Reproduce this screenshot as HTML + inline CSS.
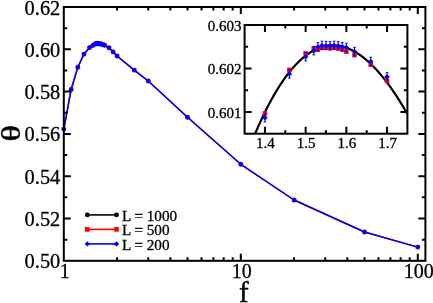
<!DOCTYPE html>
<html><head><meta charset="utf-8"><style>html,body{margin:0;padding:0;background:#fff;overflow:hidden}svg{display:block}</style></head>
<body>
<svg width="433" height="303" viewBox="0 0 433 303">
<rect width="433" height="303" fill="#fff"/>
<polyline points="63.80,129.10 71.13,89.50 77.82,67.20 83.97,54.10 89.66,47.40 92.89,45.40 94.97,44.10 95.99,43.70 96.49,43.60 96.99,43.50 97.49,43.50 97.98,43.50 98.47,43.50 98.96,43.60 99.45,43.70 99.93,43.80 100.88,44.00 102.76,44.50 104.59,45.20 108.98,47.80 113.14,51.90 117.08,56.00 134.24,70.10 148.25,81.00 187.52,117.30 240.80,164.30 294.08,200.00 364.52,232.00 417.80,247.10" fill="none" stroke="#ff0000" stroke-width="1.5" stroke-linejoin="round"/>
<rect x="61.70" y="127.00" width="4.2" height="4.2" fill="#ff0000"/>
<rect x="69.03" y="87.40" width="4.2" height="4.2" fill="#ff0000"/>
<rect x="75.72" y="65.10" width="4.2" height="4.2" fill="#ff0000"/>
<rect x="81.87" y="52.00" width="4.2" height="4.2" fill="#ff0000"/>
<rect x="87.56" y="45.30" width="4.2" height="4.2" fill="#ff0000"/>
<rect x="90.79" y="43.30" width="4.2" height="4.2" fill="#ff0000"/>
<rect x="92.87" y="42.00" width="4.2" height="4.2" fill="#ff0000"/>
<rect x="93.89" y="41.60" width="4.2" height="4.2" fill="#ff0000"/>
<rect x="94.39" y="41.50" width="4.2" height="4.2" fill="#ff0000"/>
<rect x="94.89" y="41.40" width="4.2" height="4.2" fill="#ff0000"/>
<rect x="95.39" y="41.40" width="4.2" height="4.2" fill="#ff0000"/>
<rect x="95.88" y="41.40" width="4.2" height="4.2" fill="#ff0000"/>
<rect x="96.37" y="41.40" width="4.2" height="4.2" fill="#ff0000"/>
<rect x="96.86" y="41.50" width="4.2" height="4.2" fill="#ff0000"/>
<rect x="97.35" y="41.60" width="4.2" height="4.2" fill="#ff0000"/>
<rect x="97.83" y="41.70" width="4.2" height="4.2" fill="#ff0000"/>
<rect x="98.78" y="41.90" width="4.2" height="4.2" fill="#ff0000"/>
<rect x="100.66" y="42.40" width="4.2" height="4.2" fill="#ff0000"/>
<rect x="102.49" y="43.10" width="4.2" height="4.2" fill="#ff0000"/>
<rect x="106.88" y="45.70" width="4.2" height="4.2" fill="#ff0000"/>
<rect x="111.04" y="49.80" width="4.2" height="4.2" fill="#ff0000"/>
<rect x="114.98" y="53.90" width="4.2" height="4.2" fill="#ff0000"/>
<rect x="132.14" y="68.00" width="4.2" height="4.2" fill="#ff0000"/>
<rect x="146.15" y="78.90" width="4.2" height="4.2" fill="#ff0000"/>
<rect x="185.42" y="115.20" width="4.2" height="4.2" fill="#ff0000"/>
<rect x="238.70" y="162.20" width="4.2" height="4.2" fill="#ff0000"/>
<rect x="291.98" y="197.90" width="4.2" height="4.2" fill="#ff0000"/>
<rect x="362.42" y="229.90" width="4.2" height="4.2" fill="#ff0000"/>
<rect x="415.70" y="245.00" width="4.2" height="4.2" fill="#ff0000"/>
<polyline points="63.80,129.10 71.13,89.50 77.82,67.20 83.97,54.10 89.66,47.40 92.89,45.40 94.97,44.10 95.99,43.70 96.49,43.60 96.99,43.50 97.49,43.50 97.98,43.50 98.47,43.50 98.96,43.60 99.45,43.70 99.93,43.80 100.88,44.00 102.76,44.50 104.59,45.20 108.98,47.80 113.14,51.90 117.08,56.00 134.24,70.10 148.25,81.00 187.52,117.30 240.80,164.30 294.08,200.00 364.52,232.00 417.80,247.10" fill="none" stroke="#0000ff" stroke-width="1.5" stroke-linejoin="round"/>
<path d="M61.10,129.10L63.80,126.40L66.50,129.10L63.80,131.80Z" fill="#0000ff"/>
<path d="M68.43,89.50L71.13,86.80L73.83,89.50L71.13,92.20Z" fill="#0000ff"/>
<path d="M75.12,67.20L77.82,64.50L80.52,67.20L77.82,69.90Z" fill="#0000ff"/>
<path d="M81.27,54.10L83.97,51.40L86.67,54.10L83.97,56.80Z" fill="#0000ff"/>
<path d="M86.96,47.40L89.66,44.70L92.36,47.40L89.66,50.10Z" fill="#0000ff"/>
<path d="M90.19,45.40L92.89,42.70L95.59,45.40L92.89,48.10Z" fill="#0000ff"/>
<path d="M92.27,44.10L94.97,41.40L97.67,44.10L94.97,46.80Z" fill="#0000ff"/>
<path d="M93.29,43.70L95.99,41.00L98.69,43.70L95.99,46.40Z" fill="#0000ff"/>
<path d="M93.79,43.60L96.49,40.90L99.19,43.60L96.49,46.30Z" fill="#0000ff"/>
<path d="M94.29,43.50L96.99,40.80L99.69,43.50L96.99,46.20Z" fill="#0000ff"/>
<path d="M94.79,43.50L97.49,40.80L100.19,43.50L97.49,46.20Z" fill="#0000ff"/>
<path d="M95.28,43.50L97.98,40.80L100.68,43.50L97.98,46.20Z" fill="#0000ff"/>
<path d="M95.77,43.50L98.47,40.80L101.17,43.50L98.47,46.20Z" fill="#0000ff"/>
<path d="M96.26,43.60L98.96,40.90L101.66,43.60L98.96,46.30Z" fill="#0000ff"/>
<path d="M96.75,43.70L99.45,41.00L102.15,43.70L99.45,46.40Z" fill="#0000ff"/>
<path d="M97.23,43.80L99.93,41.10L102.63,43.80L99.93,46.50Z" fill="#0000ff"/>
<path d="M98.18,44.00L100.88,41.30L103.58,44.00L100.88,46.70Z" fill="#0000ff"/>
<path d="M100.06,44.50L102.76,41.80L105.46,44.50L102.76,47.20Z" fill="#0000ff"/>
<path d="M101.89,45.20L104.59,42.50L107.29,45.20L104.59,47.90Z" fill="#0000ff"/>
<path d="M106.28,47.80L108.98,45.10L111.68,47.80L108.98,50.50Z" fill="#0000ff"/>
<path d="M110.44,51.90L113.14,49.20L115.84,51.90L113.14,54.60Z" fill="#0000ff"/>
<path d="M114.38,56.00L117.08,53.30L119.78,56.00L117.08,58.70Z" fill="#0000ff"/>
<path d="M131.54,70.10L134.24,67.40L136.94,70.10L134.24,72.80Z" fill="#0000ff"/>
<path d="M145.55,81.00L148.25,78.30L150.95,81.00L148.25,83.70Z" fill="#0000ff"/>
<path d="M184.82,117.30L187.52,114.60L190.22,117.30L187.52,120.00Z" fill="#0000ff"/>
<path d="M238.10,164.30L240.80,161.60L243.50,164.30L240.80,167.00Z" fill="#0000ff"/>
<path d="M291.38,200.00L294.08,197.30L296.78,200.00L294.08,202.70Z" fill="#0000ff"/>
<path d="M361.82,232.00L364.52,229.30L367.22,232.00L364.52,234.70Z" fill="#0000ff"/>
<path d="M415.10,247.10L417.80,244.40L420.50,247.10L417.80,249.80Z" fill="#0000ff"/>
<path d="M63.80,239.65L67.30,239.65 M425.40,239.65L421.90,239.65 M63.80,218.50L70.80,218.50 M425.40,218.50L418.40,218.50 M63.80,197.35L67.30,197.35 M425.40,197.35L421.90,197.35 M63.80,176.20L70.80,176.20 M425.40,176.20L418.40,176.20 M63.80,155.05L67.30,155.05 M425.40,155.05L421.90,155.05 M63.80,133.90L70.80,133.90 M425.40,133.90L418.40,133.90 M63.80,112.75L67.30,112.75 M425.40,112.75L421.90,112.75 M63.80,91.60L70.80,91.60 M425.40,91.60L418.40,91.60 M63.80,70.45L67.30,70.45 M425.40,70.45L421.90,70.45 M63.80,49.30L70.80,49.30 M425.40,49.30L418.40,49.30 M63.80,28.15L67.30,28.15 M425.40,28.15L421.90,28.15 M117.08,260.80L117.08,257.30 M117.08,7.00L117.08,10.50 M148.25,260.80L148.25,257.30 M148.25,7.00L148.25,10.50 M170.36,260.80L170.36,257.30 M170.36,7.00L170.36,10.50 M187.52,260.80L187.52,257.30 M187.52,7.00L187.52,10.50 M201.53,260.80L201.53,257.30 M201.53,7.00L201.53,10.50 M213.38,260.80L213.38,257.30 M213.38,7.00L213.38,10.50 M223.65,260.80L223.65,257.30 M223.65,7.00L223.65,10.50 M232.70,260.80L232.70,257.30 M232.70,7.00L232.70,10.50 M240.80,260.80L240.80,253.80 M240.80,7.00L240.80,14.00 M294.08,260.80L294.08,257.30 M294.08,7.00L294.08,10.50 M325.25,260.80L325.25,257.30 M325.25,7.00L325.25,10.50 M347.36,260.80L347.36,257.30 M347.36,7.00L347.36,10.50 M364.52,260.80L364.52,257.30 M364.52,7.00L364.52,10.50 M378.53,260.80L378.53,257.30 M378.53,7.00L378.53,10.50 M390.38,260.80L390.38,257.30 M390.38,7.00L390.38,10.50 M400.65,260.80L400.65,257.30 M400.65,7.00L400.65,10.50 M409.70,260.80L409.70,257.30 M409.70,7.00L409.70,10.50 M417.80,260.80L417.80,253.80 M417.80,7.00L417.80,14.00" stroke="#000" stroke-width="2" fill="none"/>
<rect x="63.8" y="7.0" width="361.60" height="253.80" fill="none" stroke="#000" stroke-width="2"/>
<text x="60.3" y="268.30" font-family="Liberation Serif, serif" stroke="#000" stroke-width="0.3" font-size="20.4" text-anchor="end">0.50</text>
<text x="60.3" y="226.00" font-family="Liberation Serif, serif" stroke="#000" stroke-width="0.3" font-size="20.4" text-anchor="end">0.52</text>
<text x="60.3" y="183.70" font-family="Liberation Serif, serif" stroke="#000" stroke-width="0.3" font-size="20.4" text-anchor="end">0.54</text>
<text x="60.3" y="141.40" font-family="Liberation Serif, serif" stroke="#000" stroke-width="0.3" font-size="20.4" text-anchor="end">0.56</text>
<text x="60.3" y="99.10" font-family="Liberation Serif, serif" stroke="#000" stroke-width="0.3" font-size="20.4" text-anchor="end">0.58</text>
<text x="60.3" y="56.80" font-family="Liberation Serif, serif" stroke="#000" stroke-width="0.3" font-size="20.4" text-anchor="end">0.60</text>
<text x="60.3" y="14.50" font-family="Liberation Serif, serif" stroke="#000" stroke-width="0.3" font-size="20.4" text-anchor="end">0.62</text>
<text x="64.80" y="278.4" font-family="Liberation Serif, serif" stroke="#000" stroke-width="0.3" font-size="20" text-anchor="middle">1</text>
<text x="241.80" y="278.4" font-family="Liberation Serif, serif" stroke="#000" stroke-width="0.3" font-size="20" text-anchor="middle">10</text>
<text x="418.80" y="278.4" font-family="Liberation Serif, serif" stroke="#000" stroke-width="0.3" font-size="20" text-anchor="middle">100</text>
<text x="243.8" y="302.3" font-family="Liberation Serif, serif" stroke="#000" stroke-width="0.4" font-size="29" text-anchor="middle">f</text>
<text transform="translate(20.4,133.2) rotate(-90) scale(1.21,1)" font-family="Liberation Serif, serif" font-size="28.2" text-anchor="middle" stroke="#000" stroke-width="0.5">θ</text>
<path d="M87.3,214.9L116.5,214.9" stroke="#000" stroke-width="1.6"/>
<circle cx="87.3" cy="214.9" r="2.4" fill="#000"/>
<circle cx="116.5" cy="214.9" r="2.4" fill="#000"/>
<text x="121.9" y="220.90" font-family="Liberation Serif, serif" stroke="#000" stroke-width="0.3" font-size="15.2">L = 1000</text>
<path d="M87.3,229.4L116.5,229.4" stroke="#ff0000" stroke-width="1.6"/>
<rect x="85.0" y="227.1" width="4.6" height="4.6" fill="#ff0000"/>
<rect x="114.2" y="227.1" width="4.6" height="4.6" fill="#ff0000"/>
<text x="121.9" y="235.40" font-family="Liberation Serif, serif" stroke="#000" stroke-width="0.3" font-size="15.2">L = 500</text>
<path d="M87.3,243.9L116.5,243.9" stroke="#0000ff" stroke-width="1.6"/>
<path d="M84.6,243.9L87.3,241.20000000000002L90.0,243.9L87.3,246.6Z" fill="#0000ff"/>
<path d="M113.8,243.9L116.5,241.20000000000002L119.2,243.9L116.5,246.6Z" fill="#0000ff"/>
<text x="121.9" y="249.90" font-family="Liberation Serif, serif" stroke="#000" stroke-width="0.3" font-size="15.2">L = 200</text>
<rect x="244.6" y="25.0" width="162.80" height="108.70" fill="#fff"/>
<svg x="244.6" y="25.0" width="162.80" height="108.70" viewBox="244.6 25.0 162.80 108.70" overflow="hidden">
<polyline points="244.60,160.39 245.62,157.64 246.63,154.93 247.65,152.25 248.67,149.61 249.69,147.00 250.70,144.43 251.72,141.90 252.74,139.40 253.76,136.93 254.77,134.50 255.79,132.11 256.81,129.75 257.83,127.42 258.84,125.13 259.86,122.87 260.88,120.65 261.90,118.47 262.91,116.31 263.93,114.19 264.95,112.11 265.97,110.06 266.98,108.04 268.00,106.06 269.02,104.11 270.04,102.20 271.05,100.32 272.07,98.47 273.09,96.66 274.11,94.88 275.12,93.13 276.14,91.41 277.16,89.73 278.18,88.08 279.19,86.47 280.21,84.89 281.23,83.34 282.25,81.82 283.26,80.33 284.28,78.88 285.30,77.46 286.32,76.07 287.33,74.72 288.35,73.39 289.37,72.10 290.39,70.84 291.40,69.61 292.42,68.41 293.44,67.25 294.46,66.11 295.47,65.01 296.49,63.94 297.51,62.90 298.53,61.89 299.55,60.91 300.56,59.97 301.58,59.05 302.60,58.17 303.62,57.31 304.63,56.49 305.65,55.69 306.67,54.93 307.69,54.20 308.70,53.49 309.72,52.82 310.74,52.18 311.75,51.56 312.77,50.98 313.79,50.43 314.81,49.90 315.82,49.41 316.84,48.94 317.86,48.51 318.88,48.10 319.89,47.72 320.91,47.38 321.93,47.06 322.95,46.77 323.97,46.50 324.98,46.27 326.00,46.07 327.02,45.89 328.04,45.74 329.05,45.62 330.07,45.53 331.09,45.47 332.10,45.43 333.12,45.43 334.14,45.45 335.16,45.50 336.18,45.57 337.19,45.68 338.21,45.81 339.23,45.97 340.24,46.15 341.26,46.36 342.28,46.60 343.30,46.87 344.31,47.17 345.33,47.49 346.35,47.83 347.37,48.21 348.38,48.61 349.40,49.04 350.42,49.49 351.44,49.97 352.45,50.47 353.47,51.01 354.49,51.56 355.51,52.15 356.52,52.76 357.54,53.39 358.56,54.05 359.58,54.74 360.59,55.45 361.61,56.19 362.63,56.95 363.65,57.74 364.66,58.55 365.68,59.39 366.70,60.25 367.72,61.14 368.73,62.05 369.75,62.99 370.77,63.95 371.79,64.93 372.80,65.94 373.82,66.98 374.84,68.03 375.86,69.12 376.88,70.22 377.89,71.35 378.91,72.51 379.93,73.68 380.94,74.88 381.96,76.11 382.98,77.35 384.00,78.62 385.01,79.92 386.03,81.24 387.05,82.58 388.07,83.94 389.08,85.32 390.10,86.73 391.12,88.16 392.14,89.62 393.15,91.09 394.17,92.59 395.19,94.11 396.21,95.65 397.22,97.22 398.24,98.81 399.26,100.42 400.28,102.05 401.29,103.70 402.31,105.37 403.33,107.07 404.35,108.78 405.37,110.52 406.38,112.28 407.40,114.06" fill="none" stroke="#000" stroke-width="2.2" stroke-linejoin="round"/>
</svg>
<rect x="262.65" y="111.20" width="4.6" height="4.6" fill="#ff0000"/>
<rect x="287.07" y="67.60" width="4.6" height="4.6" fill="#ff0000"/>
<rect x="303.35" y="51.10" width="4.6" height="4.6" fill="#ff0000"/>
<rect x="311.49" y="46.00" width="4.6" height="4.6" fill="#ff0000"/>
<rect x="315.56" y="47.20" width="4.6" height="4.6" fill="#ff0000"/>
<rect x="319.63" y="45.50" width="4.6" height="4.6" fill="#ff0000"/>
<rect x="323.70" y="45.20" width="4.6" height="4.6" fill="#ff0000"/>
<rect x="327.77" y="45.70" width="4.6" height="4.6" fill="#ff0000"/>
<rect x="331.84" y="45.20" width="4.6" height="4.6" fill="#ff0000"/>
<rect x="335.91" y="46.00" width="4.6" height="4.6" fill="#ff0000"/>
<rect x="339.98" y="47.20" width="4.6" height="4.6" fill="#ff0000"/>
<rect x="344.05" y="49.30" width="4.6" height="4.6" fill="#ff0000"/>
<rect x="352.19" y="52.80" width="4.6" height="4.6" fill="#ff0000"/>
<rect x="368.47" y="62.40" width="4.6" height="4.6" fill="#ff0000"/>
<rect x="384.75" y="78.50" width="4.6" height="4.6" fill="#ff0000"/>
<path d="M264.95,113.50L264.95,121.90M263.65,113.50L266.25,113.50M263.65,121.90L266.25,121.90" stroke="#0000ff" stroke-width="1"/>
<path d="M262.25,117.70L264.95,115.00L267.65,117.70L264.95,120.40Z" fill="#0000ff"/>
<path d="M289.37,69.70L289.37,78.10M288.07,69.70L290.67,69.70M288.07,78.10L290.67,78.10" stroke="#0000ff" stroke-width="1"/>
<path d="M286.67,73.90L289.37,71.20L292.07,73.90L289.37,76.60Z" fill="#0000ff"/>
<path d="M305.65,52.50L305.65,60.90M304.35,52.50L306.95,52.50M304.35,60.90L306.95,60.90" stroke="#0000ff" stroke-width="1"/>
<path d="M302.95,56.70L305.65,54.00L308.35,56.70L305.65,59.40Z" fill="#0000ff"/>
<path d="M313.79,46.50L313.79,54.90M312.49,46.50L315.09,46.50M312.49,54.90L315.09,54.90" stroke="#0000ff" stroke-width="1"/>
<path d="M311.09,50.70L313.79,48.00L316.49,50.70L313.79,53.40Z" fill="#0000ff"/>
<path d="M317.86,42.70L317.86,51.10M316.56,42.70L319.16,42.70M316.56,51.10L319.16,51.10" stroke="#0000ff" stroke-width="1"/>
<path d="M315.16,46.90L317.86,44.20L320.56,46.90L317.86,49.60Z" fill="#0000ff"/>
<path d="M321.93,41.20L321.93,49.60M320.63,41.20L323.23,41.20M320.63,49.60L323.23,49.60" stroke="#0000ff" stroke-width="1"/>
<path d="M319.23,45.40L321.93,42.70L324.63,45.40L321.93,48.10Z" fill="#0000ff"/>
<path d="M326.00,41.40L326.00,49.80M324.70,41.40L327.30,41.40M324.70,49.80L327.30,49.80" stroke="#0000ff" stroke-width="1"/>
<path d="M323.30,45.60L326.00,42.90L328.70,45.60L326.00,48.30Z" fill="#0000ff"/>
<path d="M330.07,41.60L330.07,50.00M328.77,41.60L331.37,41.60M328.77,50.00L331.37,50.00" stroke="#0000ff" stroke-width="1"/>
<path d="M327.37,45.80L330.07,43.10L332.77,45.80L330.07,48.50Z" fill="#0000ff"/>
<path d="M334.14,41.20L334.14,49.60M332.84,41.20L335.44,41.20M332.84,49.60L335.44,49.60" stroke="#0000ff" stroke-width="1"/>
<path d="M331.44,45.40L334.14,42.70L336.84,45.40L334.14,48.10Z" fill="#0000ff"/>
<path d="M338.21,41.60L338.21,50.00M336.91,41.60L339.51,41.60M336.91,50.00L339.51,50.00" stroke="#0000ff" stroke-width="1"/>
<path d="M335.51,45.80L338.21,43.10L340.91,45.80L338.21,48.50Z" fill="#0000ff"/>
<path d="M342.28,42.50L342.28,50.90M340.98,42.50L343.58,42.50M340.98,50.90L343.58,50.90" stroke="#0000ff" stroke-width="1"/>
<path d="M339.58,46.70L342.28,44.00L344.98,46.70L342.28,49.40Z" fill="#0000ff"/>
<path d="M346.35,43.20L346.35,51.60M345.05,43.20L347.65,43.20M345.05,51.60L347.65,51.60" stroke="#0000ff" stroke-width="1"/>
<path d="M343.65,47.40L346.35,44.70L349.05,47.40L346.35,50.10Z" fill="#0000ff"/>
<path d="M354.49,47.30L354.49,55.70M353.19,47.30L355.79,47.30M353.19,55.70L355.79,55.70" stroke="#0000ff" stroke-width="1"/>
<path d="M351.79,51.50L354.49,48.80L357.19,51.50L354.49,54.20Z" fill="#0000ff"/>
<path d="M370.77,57.20L370.77,65.60M369.47,57.20L372.07,57.20M369.47,65.60L372.07,65.60" stroke="#0000ff" stroke-width="1"/>
<path d="M368.07,61.40L370.77,58.70L373.47,61.40L370.77,64.10Z" fill="#0000ff"/>
<path d="M387.05,72.60L387.05,81.00M385.75,72.60L388.35,72.60M385.75,81.00L388.35,81.00" stroke="#0000ff" stroke-width="1"/>
<path d="M384.35,76.80L387.05,74.10L389.75,76.80L387.05,79.50Z" fill="#0000ff"/>
<path d="M244.60,111.96L251.60,111.96 M407.40,111.96L400.40,111.96 M244.60,90.22L248.10,90.22 M407.40,90.22L403.90,90.22 M244.60,68.48L251.60,68.48 M407.40,68.48L400.40,68.48 M244.60,46.74L248.10,46.74 M407.40,46.74L403.90,46.74 M264.95,133.70L264.95,126.70 M264.95,25.00L264.95,32.00 M285.30,133.70L285.30,130.20 M285.30,25.00L285.30,28.50 M305.65,133.70L305.65,126.70 M305.65,25.00L305.65,32.00 M326.00,133.70L326.00,130.20 M326.00,25.00L326.00,28.50 M346.35,133.70L346.35,126.70 M346.35,25.00L346.35,32.00 M366.70,133.70L366.70,130.20 M366.70,25.00L366.70,28.50 M387.05,133.70L387.05,126.70 M387.05,25.00L387.05,32.00" stroke="#000" stroke-width="2" fill="none"/>
<rect x="244.6" y="25.0" width="162.80" height="108.70" fill="none" stroke="#000" stroke-width="2"/>
<text x="241.5" y="117.76" font-family="Liberation Serif, serif" stroke="#000" stroke-width="0.3" font-size="15" text-anchor="end">0.601</text>
<text x="241.5" y="74.28" font-family="Liberation Serif, serif" stroke="#000" stroke-width="0.3" font-size="15" text-anchor="end">0.602</text>
<text x="241.5" y="30.80" font-family="Liberation Serif, serif" stroke="#000" stroke-width="0.3" font-size="15" text-anchor="end">0.603</text>
<text x="265.45" y="148.3" font-family="Liberation Serif, serif" stroke="#000" stroke-width="0.3" font-size="15" text-anchor="middle">1.4</text>
<text x="306.15" y="148.3" font-family="Liberation Serif, serif" stroke="#000" stroke-width="0.3" font-size="15" text-anchor="middle">1.5</text>
<text x="346.85" y="148.3" font-family="Liberation Serif, serif" stroke="#000" stroke-width="0.3" font-size="15" text-anchor="middle">1.6</text>
<text x="387.55" y="148.3" font-family="Liberation Serif, serif" stroke="#000" stroke-width="0.3" font-size="15" text-anchor="middle">1.7</text>
</svg>
</body></html>
